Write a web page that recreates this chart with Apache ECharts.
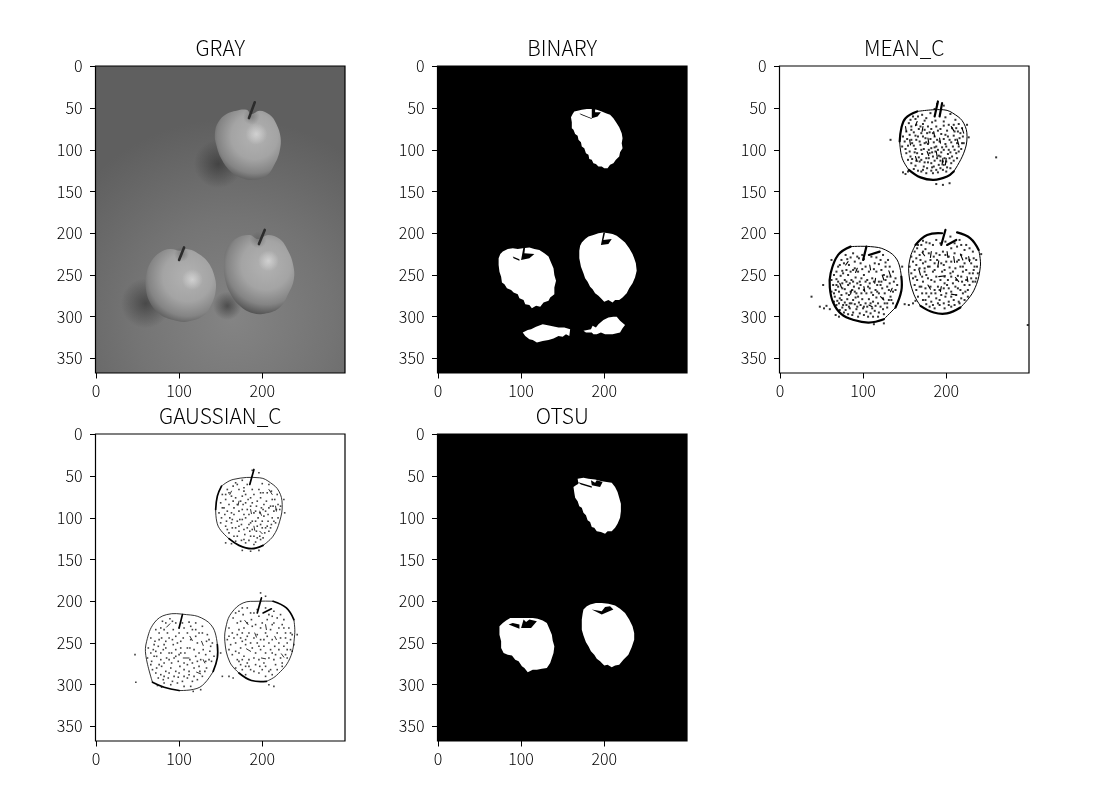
<!DOCTYPE html>
<html lang="en">
<head>
    <meta charset="UTF-8">
    <title>Threshold comparison</title>
    <script src="https://cdn.jsdelivr.net/npm/echarts@6/dist/echarts.min.js"></script>
    <style>body { margin: 0; background: #fff; }</style>
</head>
<body>
<div id="chart" style="width: 1101px;height: 810px"></div>
<script>
    const panelTitles = ['GRAY', 'BINARY', 'MEAN_C', 'GAUSSIAN_C', 'OTSU'];
    const xTicks = [0, 100, 200];
    const yTicks = [0, 50, 100, 150, 200, 250, 300, 350];
    const xRange = [-0.5, 299.5];
    const yRange = [-0.5, 367.5];

    // apple outlines in image coordinates (x, y)
    const appleTop = [[169,53],[181,52],[187,57],[197,53],[209,58],[217,69],[222,85],[221,101],[215,117],[205,131],[189,136],[173,133],[161,125],[151,111],[145,95],[143,81],[147,67],[157,57]];
    const appleLeft = [[77,223],[89,219],[101,221],[109,219],[121,223],[135,235],[143,253],[144,269],[139,285],[129,299],[109,306],[93,304],[77,297],[65,283],[60,265],[61,247],[67,233]];
    const appleRight = [[169,206],[185,202],[195,207],[207,202],[221,207],[231,221],[237,237],[238,255],[231,273],[221,289],[205,296],[189,296],[173,287],[161,271],[155,253],[154,237],[157,219]];
    const grayStems = [[[184,62],[191,43]], [[100,232],[106,217]], [[196,213],[203,196]]];
    const grayShadows = [[[118,88],[176,88],[176,146],[118,146]], [[30,254],[90,254],[90,314],[30,314]], [[140,270],[176,270],[176,304],[140,304]]];
    const grayDimples = [[[172,50],[202,50],[202,70],[172,70]], [[88,216],[118,216],[118,234],[88,234]], [[180,198],[210,198],[210,218],[180,218]]];
    const grayHighlights = [[[180,68],[206,68],[206,94],[180,94]], [[102,243],[130,243],[130,268],[102,268]], [[195,220],[220,220],[220,246],[195,246]]];

    // white regions of the BINARY panel and the dark notches inside them
    const binaryBlobs = [
        [[160,61],[162,57],[164,54],[168,53],[173,52],[179,51],[185,51],[191,52],[197,54],[202,56],[207,58],[211,62],[215,68],[218,73],[221,80],[222,86],[221,92],[222,98],[219,103],[218,108],[214,112],[211,116],[207,118],[204,122],[200,122],[197,120],[193,120],[190,117],[187,116],[185,112],[182,111],[181,106],[178,104],[176,98],[173,96],[172,91],[169,88],[168,83],[165,81],[163,76],[161,74],[161,67]],
        [[73,230],[75,225],[78,222],[84,219],[90,218],[96,219],[102,218],[110,217],[116,219],[122,220],[128,224],[133,228],[136,235],[139,242],[140,250],[142,257],[140,265],[140,273],[135,277],[133,281],[127,283],[123,288],[118,287],[113,290],[110,286],[105,285],[103,280],[98,278],[96,273],[91,271],[88,268],[83,266],[80,261],[77,259],[76,252],[74,246],[73,238]],
        [[170,221],[171,215],[173,211],[177,207],[181,204],[187,202],[193,200],[199,199],[205,200],[210,201],[215,203],[220,207],[225,211],[230,218],[234,225],[236,230],[238,236],[239,245],[237,253],[234,260],[230,266],[227,272],[222,277],[218,280],[213,280],[210,283],[205,280],[200,282],[196,278],[193,275],[189,272],[186,267],[183,264],[180,258],[177,254],[175,248],[172,240],[170,230]],
        [[102,319],[108,316],[112,315],[118,312],[126,309],[135,311],[145,313],[152,313],[159,315],[158,323],[154,321],[150,324],[145,323],[139,326],[133,328],[126,329],[119,331],[114,328],[110,327],[105,323]],
        [[193,309],[199,304],[205,301],[211,300],[215,300],[219,305],[225,310],[222,314],[219,319],[210,321],[201,321],[196,319],[191,321],[187,321],[185,319],[178,319],[175,317],[184,315],[186,311],[190,313]]
    ];
    const binaryHoles = [
        [[185,50],[189,50],[189,55],[196,55],[192,60],[185,62]],
        [[170,56],[185,62],[185,63],[172,58]],
        [[103,216],[105,216],[104,224],[116,225],[110,230],[100,232]],
        [[90,228],[98,231],[98,233],[91,230]],
        [[199,199],[201,199],[199,208],[209,207],[205,213],[196,214]]
    ];

    // white regions of the OTSU panel
    const otsuBlobs = [
        [[163,63],[166,61],[169,59],[168,53],[175,52],[181,53],[189,54],[197,56],[203,57],[209,58],[213,63],[216,69],[218,76],[220,83],[220,92],[219,100],[216,107],[213,112],[209,116],[204,116],[201,119],[196,117],[191,116],[188,112],[185,111],[183,105],[180,103],[178,97],[175,94],[173,88],[170,86],[168,80],[165,76],[164,70]],
        [[74,230],[78,226],[82,223],[87,220],[92,220],[100,220],[108,220],[114,220],[120,221],[126,223],[131,226],[134,233],[137,240],[138,247],[140,254],[139,262],[137,268],[135,274],[131,280],[125,281],[119,282],[114,282],[108,285],[104,280],[101,278],[97,272],[93,270],[89,265],[84,264],[79,262],[76,256],[76,248],[74,240]],
        [[173,222],[174,215],[175,210],[179,206],[183,204],[190,202],[197,202],[205,203],[213,205],[219,209],[225,214],[230,222],[234,230],[236,238],[236,246],[233,255],[229,264],[223,270],[218,276],[213,277],[209,279],[204,276],[200,277],[195,272],[191,269],[188,264],[184,260],[181,254],[178,249],[175,241],[173,234]]
    ];
    const otsuHoles = [
        [[184,55],[185,61],[195,63],[198,57],[191,55],[189,58]],
        [[168,57],[185,62],[185,64],[172,60]],
        [[100,232],[112,232],[119,224],[110,222],[106,225],[103,222]],
        [[85,228],[98,233],[98,228],[90,226]],
        [[185,210],[197,216],[211,210],[207,206],[201,207],[197,212]]
    ];

    // contours of the adaptive threshold panels
    const meanThick = [
        [[165,54],[151,62],[146,74],[144,90]],
        [[155,124],[169,133],[185,136],[201,132],[209,126]],
        [[85,216],[70,226],[61,248],[60,265],[64,283],[74,297],[89,304],[107,307],[125,303]],
        [[146,252],[146,269],[139,289]],
        [[169,287],[185,295],[201,296],[217,289]],
        [[163,214],[177,202],[195,200]],
        [[213,199],[229,206],[239,220]],
        [[186,60],[190,42]], [[192,60],[195,44]], [[100,232],[104,216]], [[107,226],[120,222]], [[194,214],[199,196]], [[201,214],[212,208]]
    ];
    const meanThin = [
        [[144,90],[147,110],[155,124]],
        [[209,126],[221,104],[225,84],[221,68],[211,58],[197,52],[165,54]],
        [[125,303],[139,289]],
        [[146,252],[141,232],[127,220],[109,216],[85,216]],
        [[163,214],[157,228],[155,248],[161,273],[169,287]],
        [[217,289],[233,269],[241,240],[239,220]]
    ];
    const gaussThick = [
        [[151,62],[146,74],[144,90]],
        [[160,125],[172,133],[187,137],[201,133]],
        [[146,252],[146,268],[141,284]],
        [[68,297],[82,303],[100,307]],
        [[172,286],[187,295],[205,296]],
        [[213,200],[229,208],[238,222]],
        [[185,60],[190,42]], [[100,232],[104,216]], [[194,214],[199,196]], [[201,214],[211,209]]
    ];
    const gaussThin = [
        [[144,90],[147,110],[160,125]],
        [[201,133],[213,122],[221,104],[224,84],[220,68],[210,58],[197,52],[165,54],[151,62]],
        [[100,307],[125,303],[141,284]],
        [[146,252],[141,232],[127,220],[109,216],[85,216],[70,226],[61,248],[60,265],[68,297]],
        [[172,286],[161,273],[155,248],[157,228],[163,214],[177,202],[195,200],[213,200]],
        [[205,296],[217,289],[233,269],[239,240],[238,222]]
    ];

    // short dark streaks inside the apples
    const meanStrokes = [
        [[165,66],[163,71]],[[172,72],[171,78]],[[178,86],[179,92]],[[185,78],[186,84]],[[192,86],[193,92]],[[177,102],[179,107]],[[188,102],[189,108]],[[196,110],[195,118]],[[200,110],[199,118]],[[206,72],[209,77]],[[213,87],[215,94]],[[156,88],[157,94]],[[163,108],[165,114]],[[219,74],[221,80]],[[151,72],[152,78]],
        [[79,238],[82,234]],[[93,242],[91,247]],[[108,238],[109,244]],[[115,254],[114,260]],[[123,250],[125,256]],[[131,245],[133,251]],[[101,264],[102,270]],[[86,268],[85,273]],[[72,260],[74,265]],[[121,276],[125,280]],[[107,286],[111,288]],[[133,270],[135,266]],
        [[171,223],[174,227]],[[182,222],[181,229]],[[191,233],[190,239]],[[201,222],[202,229]],[[209,228],[210,235]],[[217,225],[220,232]],[[227,228],[228,234]],[[167,243],[169,250]],[[191,252],[199,251]],[[194,264],[193,270]],[[211,253],[215,258]],[[178,262],[181,267]],[[225,252],[226,258]],[[206,273],[212,274]]
    ];
    const gaussStrokes = [
        [[163,68],[161,72]],[[208,66],[212,72]],[[172,80],[171,85]],[[186,90],[187,95]],[[197,92],[199,97]],[[190,110],[191,115]],[[197,116],[200,119]],[[216,86],[217,92]],
        [[85,231],[89,227]],[[113,242],[116,247]],[[127,248],[129,253]],[[105,268],[112,268]],[[121,285],[126,287]],[[129,270],[131,274]],
        [[179,223],[183,228]],[[191,238],[193,243]],[[204,228],[205,234]],[[215,242],[217,246]],[[181,257],[186,260]],[[199,268],[204,269]],[[223,263],[226,267]]
    ];

    // single dark pixels in the MEAN_C and GAUSSIAN_C panels
    const meanDotsTop = [
        [160,60],[163,63],[171,58],[176,62],[181,56],[199,61],[205,57],[211,64],[215,69],[155,68],[158,72],[164,70],[167,75],[172,69],[178,72],[183,67],[203,70],[207,74],[214,78],[219,74],[152,78],[156,82],[161,79],[166,84],[170,80],[175,86],[180,79],[186,84],[190,77],[199,82],[204,88],[209,83],[216,86],[221,92],[150,90],[154,95],[159,92],[163,99],[169,94],[173,99],[178,93],[182,98],[185,91],[188,96],[192,90],[195,97],[199,93],[203,100],[208,96],[213,92],[218,99],[152,104],[157,108],[162,103],[167,109],[171,105],[176,110],[180,104],[184,108],[187,102],[191,107],[194,103],[198,110],[202,105],[207,108],[212,104],[158,116],[163,119],[168,114],[173,120],[178,115],[183,121],[186,113],[191,118],[196,114],[201,121],[206,116],[170,126],[176,128],[182,125],[190,127],[196,124],[148,127],[151,129],[154,126],[133,88],[260,109],[188,141],[196,142],[204,140],[189,45],[197,47],[186,51],[225,70],[227,85],
        [157,64],[166,60],[174,65],[187,65],[197,66],[209,70],[212,74],[158,76],[163,83],[169,72],[174,76],[177,80],[182,75],[188,72],[193,75],[197,71],[201,77],[210,78],[217,80],[148,84],[153,87],[158,88],[164,88],[168,90],[172,84],[176,91],[181,87],[184,80],[189,88],[194,81],[197,87],[202,84],[206,91],[211,88],[215,96],[220,84],[147,96],[151,99],[156,102],[161,95],[165,104],[170,100],[174,92],[179,100],[183,103],[186,97],[190,100],[193,108],[197,100],[200,96],[205,103],[210,100],[215,102],[219,92],[154,112],[159,111],[164,113],[170,112],[174,115],[179,110],[182,116],[185,120],[189,110],[193,113],[197,118],[200,114],[204,110],[209,113],[213,110],[161,123],[166,125],[172,124],[177,122],[184,128],[188,124],[193,122],[200,126],[205,122]
    ];
    const meanDotsLeft = [
        [74,232],[79,226],[88,224],[93,228],[99,226],[116,229],[124,226],[130,232],[70,240],[75,245],[83,238],[88,244],[97,236],[103,240],[113,243],[119,237],[127,240],[136,246],[65,250],[68,255],[73,251],[78,256],[82,250],[86,256],[91,253],[96,258],[101,250],[105,256],[111,254],[119,258],[129,252],[137,258],[141,262],[64,262],[67,268],[70,264],[74,274],[78,267],[82,262],[85,270],[89,264],[92,272],[95,266],[98,272],[106,264],[110,271],[117,270],[123,266],[129,264],[136,270],[66,276],[69,281],[72,278],[78,283],[81,279],[84,284],[88,280],[91,277],[95,283],[99,279],[103,284],[107,279],[112,282],[116,277],[124,278],[129,284],[134,280],[75,289],[79,292],[84,290],[88,295],[92,291],[96,296],[100,290],[104,294],[109,296],[114,293],[119,295],[124,291],[129,289],[38,276],[48,288],[53,290],[56,287],[60,291],[67,298],[71,300],[113,309],[125,308],[52,262],[62,232],[147,240],
        [72,238],[77,236],[81,231],[85,229],[90,234],[95,230],[101,231],[110,228],[114,236],[121,232],[127,235],[132,240],[68,246],[76,248],[80,244],[85,246],[90,242],[94,246],[99,243],[107,246],[116,246],[122,244],[125,250],[133,252],[62,256],[70,258],[75,260],[80,258],[84,260],[88,258],[93,260],[98,254],[103,258],[108,260],[113,258],[117,262],[122,258],[127,256],[132,260],[139,254],[62,270],[65,272],[68,262],[71,270],[75,266],[80,272],[83,274],[87,268],[90,270],[94,276],[97,262],[101,268],[104,272],[108,266],[112,274],[115,268],[119,272],[121,262],[126,272],[131,268],[133,276],[139,268],[65,282],[68,286],[71,284],[74,280],[76,286],[80,286],[83,288],[86,284],[90,285],[93,288],[97,286],[101,288],[105,288],[109,284],[111,290],[115,287],[118,284],[121,288],[126,284],[131,280],[136,284],[72,292],[77,295],[82,297],[87,298],[94,300],[101,298],[106,300],[112,300],[118,300],[125,297]
    ];
    const meanDotsRight = [
        [166,214],[172,209],[180,212],[188,208],[205,204],[216,208],[224,214],[232,222],[236,232],[162,222],[168,226],[175,219],[188,224],[196,222],[206,218],[213,216],[222,220],[234,240],[160,234],[164,238],[172,236],[178,240],[186,236],[197,238],[204,241],[213,234],[220,240],[228,232],[232,248],[158,248],[163,252],[174,246],[178,254],[186,244],[195,246],[202,256],[208,246],[214,251],[220,246],[228,248],[236,254],[162,262],[168,264],[172,258],[179,276],[186,258],[190,264],[198,260],[203,266],[208,260],[214,266],[219,258],[226,268],[232,258],[166,276],[171,272],[175,280],[182,282],[187,272],[192,280],[199,276],[203,282],[209,280],[215,282],[220,272],[226,276],[180,288],[186,290],[192,286],[198,290],[206,288],[150,285],[155,286],[160,284],[163,281],[242,225],[298,310],
        [170,214],[176,211],[184,214],[193,212],[199,210],[210,212],[218,214],[228,218],[165,218],[172,222],[179,224],[185,228],[192,226],[199,226],[203,228],[210,224],[218,226],[224,230],[233,230],[158,228],[164,230],[169,232],[175,234],[181,232],[189,232],[194,236],[200,234],[206,234],[215,232],[222,236],[230,236],[237,240],[156,240],[162,244],[168,242],[174,242],[180,240],[184,246],[190,240],[198,244],[205,248],[211,242],[217,240],[224,244],[233,244],[238,248],[160,254],[165,256],[171,252],[176,250],[182,256],[188,252],[193,256],[198,252],[206,252],[212,256],[218,252],[224,256],[230,254],[235,258],[164,268],[170,264],[175,266],[181,264],[186,268],[192,268],[197,266],[201,262],[206,270],[211,264],[217,268],[222,262],[228,262],[172,280],[176,272],[182,272],[188,278],[194,274],[200,272],[206,276],[212,274],[218,278],[223,270],[176,285],[184,286],[190,284],[197,284],[203,286],[210,286],[216,284],[222,280]
    ];
    const gaussDotsTop = [
        [168,58],[176,55],[182,60],[200,59],[208,60],[158,66],[165,62],[172,66],[178,64],[196,66],[201,70],[211,68],[218,72],[152,72],[156,78],[163,74],[168,76],[176,74],[183,78],[190,72],[198,76],[205,80],[212,78],[219,84],[150,82],[154,88],[160,84],[166,88],[172,92],[177,84],[182,90],[188,82],[193,86],[199,88],[204,92],[210,86],[214,92],[221,90],[148,94],[155,96],[161,100],[166,96],[173,102],[178,96],[184,96],[190,94],[195,100],[202,98],[207,104],[212,100],[219,100],[150,106],[156,110],[163,106],[168,112],[175,108],[182,112],[186,106],[192,104],[198,108],[204,112],[211,108],[216,106],[160,118],[166,122],[172,116],[179,120],[185,116],[190,122],[197,122],[203,118],[208,116],[168,128],[175,127],[184,127],[192,129],[198,126],[156,130],[163,131],[176,139],[186,140],[196,139],[188,43],[196,46],[226,78],[227,94],
        [160,70],[170,60],[178,68],[188,66],[198,70],[206,70],[215,78],[156,72],[165,80],[174,80],[180,72],[186,76],[194,80],[202,84],[208,88],[217,90],[152,88],[158,92],[163,94],[170,84],[176,90],[180,82],[186,86],[192,92],[197,94],[201,90],[207,96],[213,86],[222,86],[151,100],[157,104],[164,102],[170,104],[176,102],[180,100],[188,104],[194,110],[200,104],[206,110],[214,104],[158,114],[164,112],[172,110],[178,114],[184,108],[188,114],[193,116],[200,112],[210,112],[170,122],[178,126],[186,122],[194,124],[201,124],[180,130],[190,132]
    ];
    const gaussDotsLeft = [
        [80,224],[89,221],[96,226],[112,225],[120,226],[128,230],[72,234],[78,232],[86,238],[100,238],[106,232],[116,234],[124,238],[134,240],[66,244],[71,248],[79,244],[84,248],[92,246],[98,250],[105,244],[110,256],[120,242],[133,248],[140,250],[63,256],[69,258],[75,254],[81,258],[88,262],[93,252],[102,256],[107,262],[118,258],[124,262],[129,258],[137,260],[62,268],[67,272],[73,266],[78,270],[85,268],[91,274],[96,266],[102,262],[110,276],[116,274],[122,272],[136,270],[142,266],[68,282],[73,280],[79,278],[84,284],[90,280],[96,284],[101,278],[106,282],[112,284],[118,280],[124,278],[133,280],[75,292],[81,294],[87,292],[92,296],[99,291],[104,296],[110,292],[116,296],[122,294],[128,290],[47,264],[48,297],[74,301],[79,303],[117,308],[126,306],[150,262],[152,290],
        [84,226],[92,224],[104,226],[114,230],[76,238],[82,234],[93,234],[100,232],[110,238],[120,234],[128,238],[70,252],[76,246],[82,252],[88,244],[96,242],[102,248],[114,246],[122,250],[136,246],[66,262],[72,260],[78,262],[84,256],[91,262],[96,258],[100,264],[113,256],[120,266],[132,264],[138,254],[66,276],[70,266],[76,276],[82,274],[88,270],[94,268],[99,272],[106,274],[113,270],[126,270],[132,272],[139,272],[72,286],[78,288],[82,290],[88,286],[94,290],[100,286],[106,290],[112,288],[118,290],[125,284],[131,284],[82,298],[90,300],[98,298],[106,302],[114,302]
    ];
    const gaussDotsRight = [
        [172,212],[182,208],[190,214],[204,208],[214,212],[222,216],[165,220],[170,226],[177,216],[187,222],[196,218],[206,222],[214,226],[226,222],[232,232],[160,232],[166,244],[172,234],[178,232],[184,238],[198,232],[210,234],[220,232],[228,238],[236,240],[158,246],[162,252],[174,244],[180,246],[186,250],[196,254],[202,246],[208,250],[215,254],[222,244],[230,250],[238,252],[164,264],[170,270],[174,256],[178,266],[184,270],[192,262],[198,258],[204,262],[210,258],[216,264],[226,254],[234,258],[168,280],[174,276],[180,278],[186,282],[192,276],[197,278],[204,278],[210,282],[216,276],[224,278],[230,268],[180,288],[196,286],[204,290],[212,288],[198,190],[204,194],[208,300],[214,302],[242,240],[160,290],[165,292],
        [176,208],[186,214],[194,210],[208,216],[218,220],[168,214],[174,224],[182,226],[192,228],[200,226],[212,218],[224,228],[234,238],[164,238],[170,240],[176,238],[188,230],[194,240],[204,238],[212,228],[218,238],[226,232],[160,242],[168,250],[176,248],[182,242],[190,244],[198,246],[206,242],[212,246],[220,250],[228,244],[234,246],[160,258],[168,260],[172,262],[180,252],[188,256],[194,250],[202,254],[212,262],[220,258],[230,258],[236,260],[172,272],[176,270],[182,274],[190,268],[196,270],[202,274],[208,268],[214,270],[222,268],[228,264],[176,282],[184,278],[190,284],[200,282],[208,284],[218,282],[224,274]
    ];

    const panelLefts = [95.5, 437.5, 779.5, 95.5, 437.5];
    const panelTops = [66, 66, 66, 434, 434];
    const panelWidth = 249.5;
    const panelHeight = 307;
    const font = '"Noto Sans CJK JP", "Noto Sans", sans-serif';

    function radial(cx, cy, r, stops) {
        return {
            type: 'radial', x: cx, y: cy, r: r,
            colorStops: stops.map(s => ({offset: s[0], color: s[1]}))
        };
    }

    function polySeries(panel, polys, fill, smooth) {
        return {
            type: 'custom', xAxisIndex: panel, yAxisIndex: panel, silent: true, animation: false,
            data: polys.map((p, k) => [k]),
            renderItem: function (params, api) {
                return {
                    type: 'polygon',
                    shape: {points: polys[api.value(0)].map(p => api.coord(p)), smooth: smooth},
                    style: {fill: fill}
                };
            }
        };
    }

    function lineSeries(panel, lines, color, width, smooth) {
        return {
            type: 'custom', xAxisIndex: panel, yAxisIndex: panel, silent: true, animation: false,
            data: lines.map((p, k) => [k]),
            renderItem: function (params, api) {
                return {
                    type: 'polyline',
                    shape: {points: lines[api.value(0)].map(p => api.coord(p)), smooth: smooth},
                    style: {fill: null, stroke: color, lineWidth: width, lineCap: 'round'}
                };
            }
        };
    }

    function dotSeries(panel, dots, color, size) {
        return {
            type: 'scatter', xAxisIndex: panel, yAxisIndex: panel, silent: true, animation: false,
            symbol: 'rect', symbolSize: size, itemStyle: {color: color},
            data: dots
        };
    }

    const fullImage = [[[xRange[0], yRange[0]], [xRange[1], yRange[0]], [xRange[1], yRange[1]], [xRange[0], yRange[1]]]];

    function frameSeries(panel) {
        return {
            type: 'custom', xAxisIndex: panel, yAxisIndex: panel, silent: true, animation: false, z: 10,
            data: [[0]],
            renderItem: function (params, api) {
                return {
                    type: 'polygon',
                    shape: {points: fullImage[0].map(p => api.coord(p))},
                    style: {fill: null, stroke: '#000', lineWidth: 1.2}
                };
            }
        };
    }

    const apples = [appleTop, appleLeft, appleRight];
    const series = [
        // GRAY
        polySeries(0, fullImage, radial(0.55, 0.82, 0.8, [[0, '#848484'], [0.5, '#747474'], [1, '#5f5f5f']])),
        polySeries(0, grayShadows, radial(0.5, 0.5, 0.5, [[0, 'rgba(45,45,45,0.62)'], [1, 'rgba(45,45,45,0)']])),
        polySeries(0, apples, radial(0.6, 0.38, 0.7, [[0, '#b2b2b2'], [0.5, '#a4a4a4'], [0.8, '#848484'], [1, '#565656']]), 0.4),
        polySeries(0, grayDimples, radial(0.5, 0.5, 0.5, [[0, 'rgba(80,80,80,0.45)'], [1, 'rgba(80,80,80,0)']])),
        polySeries(0, grayHighlights, radial(0.5, 0.5, 0.5, [[0, 'rgba(235,235,235,0.55)'], [1, 'rgba(235,235,235,0)']])),
        lineSeries(0, grayStems, '#2c2c2c', 2.6, 0),
        // BINARY
        polySeries(1, fullImage, '#000'),
        polySeries(1, binaryBlobs, '#fff'),
        polySeries(1, binaryHoles, '#000'),
        // MEAN_C
        dotSeries(2, meanDotsTop.concat(meanDotsLeft, meanDotsRight), '#000', 2),
        lineSeries(2, meanStrokes, '#000', 1.1, 0),
        lineSeries(2, meanThin, '#000', 1, 0.4),
        lineSeries(2, meanThick, '#000', 2.2, 0.4),
        // GAUSSIAN_C
        dotSeries(3, gaussDotsTop.concat(gaussDotsLeft, gaussDotsRight), '#111', 1.6),
        lineSeries(3, gaussStrokes, '#000', 0.8, 0),
        lineSeries(3, gaussThin, '#000', 0.8, 0.4),
        lineSeries(3, gaussThick, '#000', 1.7, 0.4),
        // OTSU
        polySeries(4, fullImage, '#000'),
        polySeries(4, otsuBlobs, '#fff'),
        polySeries(4, otsuHoles, '#000')
    ];
    [0, 1, 2, 3, 4].forEach(i => series.push(frameSeries(i)));

    const chart = echarts.init(document.getElementById('chart'));
    chart.setOption({
        animation: false,
        backgroundColor: '#fff',
        textStyle: {fontFamily: font},
        title: panelTitles.map((t, i) => ({
            text: t,
            left: panelLefts[i] + panelWidth / 2,
            top: panelTops[i] - 28.5,
            padding: 0,
            textAlign: 'center',
            textStyle: {fontFamily: font, fontSize: 21, fontWeight: 300, color: '#000'}
        })),
        grid: panelTitles.map((t, i) => ({
            left: panelLefts[i], top: panelTops[i], width: panelWidth, height: panelHeight
        })),
        xAxis: panelTitles.map((t, i) => ({
            type: 'value', gridIndex: i, min: xRange[0], max: xRange[1], position: 'bottom',
            axisLine: {show: false, onZero: false},
            axisTick: {show: true, length: 5.5, customValues: xTicks, lineStyle: {color: '#000', width: 1}},
            axisLabel: {customValues: xTicks, margin: 10, fontSize: 16, fontWeight: 300, color: '#000', fontFamily: font},
            splitLine: {show: false}
        })),
        yAxis: panelTitles.map((t, i) => ({
            type: 'value', gridIndex: i, min: yRange[0], max: yRange[1], inverse: true, position: 'left',
            axisLine: {show: false, onZero: false},
            axisTick: {show: true, length: 5.5, customValues: yTicks, lineStyle: {color: '#000', width: 1}},
            axisLabel: {customValues: yTicks, margin: 13, fontSize: 16, fontWeight: 300, color: '#000', fontFamily: font},
            splitLine: {show: false}
        })),
        series: series
    });
</script>
</body>
</html>
